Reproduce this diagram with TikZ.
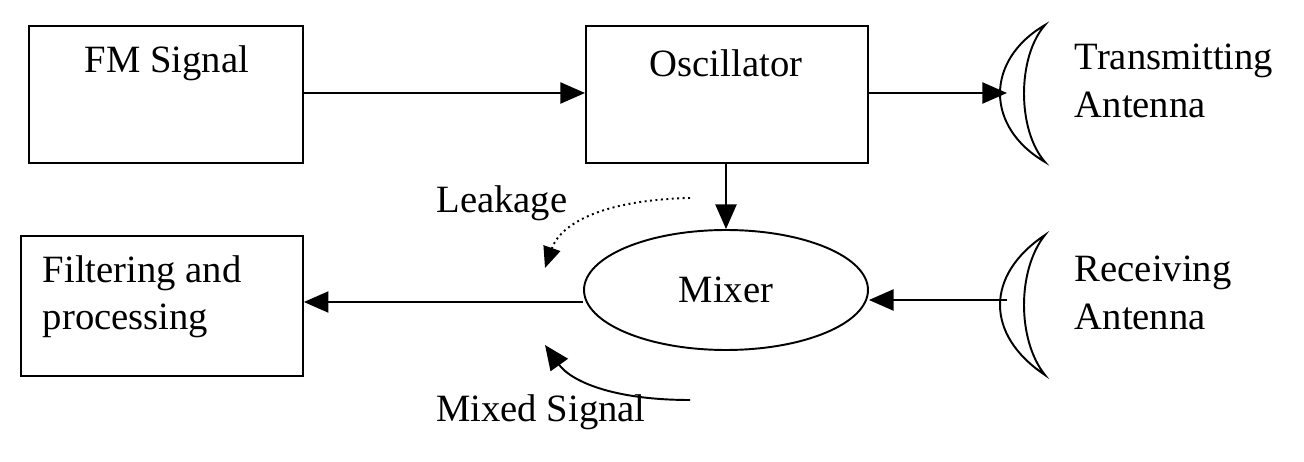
\documentclass[tikz,border=0pt]{standalone}
\usepackage{fontspec}
\setmainfont{Liberation Serif}
\usetikzlibrary{arrows.meta, positioning, shapes.geometric}
\begin{document}
\begin{tikzpicture}[x=0.02cm, y=-0.02cm, line width=1.1pt,
    block/.style={rectangle, draw=black, minimum height=2.74cm, minimum width=5.48cm},
    label/.style={font=\fontsize{22}{27}\selectfont, align=left},
    message/.style={-{Triangle[length=14pt, width=12pt]}}
]
\useasboundingbox (0,0) rectangle (1304,462);

% Blocks
\node[block, anchor=north west] (fm) at (28,25) {};
\node[label] at (167,63) {FM Signal};
\node[block, minimum width=5.64cm, anchor=north west] (osc) at (585,25) {};
\node[label] at (726,63) {Oscillator};
\node[block, minimum width=5.64cm, minimum height=2.8cm, anchor=north west] (filt) at (20,235) {};
\node[label, anchor=west] at (36,297) {Filtering and\\processing};
\node[ellipse, draw, minimum width=5.68cm, minimum height=2.4cm] (mixer) at (726,290) {};
\node[label] at (726,290) {Mixer};

% Antennas
\coordinate (tx) at (1007,93);
\coordinate (rx) at (1007,300);
\draw (1045,25) .. controls (985,60) and (985,127) .. (1045,162)
             .. controls (1017,130) and (1017,57) .. cycle;
\draw (1045,235) .. controls (985,275) and (985,335) .. (1045,375)
             .. controls (1017,340) and (1017,270) .. cycle;
\node[label, anchor=west] at (1068,81) {Transmitting\\Antenna};
\node[label, anchor=west] at (1068,293) {Receiving\\Antenna};

% Messages
\draw[message] (fm.east |- 0,93) -- (osc.west |- 0,93);
\draw[message] (osc.east |- 0,93) -- (tx);
\draw[message] (mixer.north |- osc.south) -- (mixer.north);
\draw[message] (rx) -- (mixer.east |- rx);
\draw[message] (mixer.west |- 0,302) -- (filt.east |- 0,302);

% Feedback paths
\coordinate (leakA) at (690,198);
\coordinate (leakB) at (545,268);
\coordinate (mixA) at (690,400);
\coordinate (mixB) at (545,345);
\draw[-{Triangle[length=12pt, width=10pt]}, dotted] (leakA) .. controls (600,200) and (560,225) .. (leakB);
\draw[-{Triangle[length=14pt, width=12pt]}] (mixA) .. controls (610,400) and (570,380) .. (mixB);
\node[label] at (502,203) {Leakage};
\node[label] at (541,412) {Mixed Signal};
\end{tikzpicture}
\end{document}
